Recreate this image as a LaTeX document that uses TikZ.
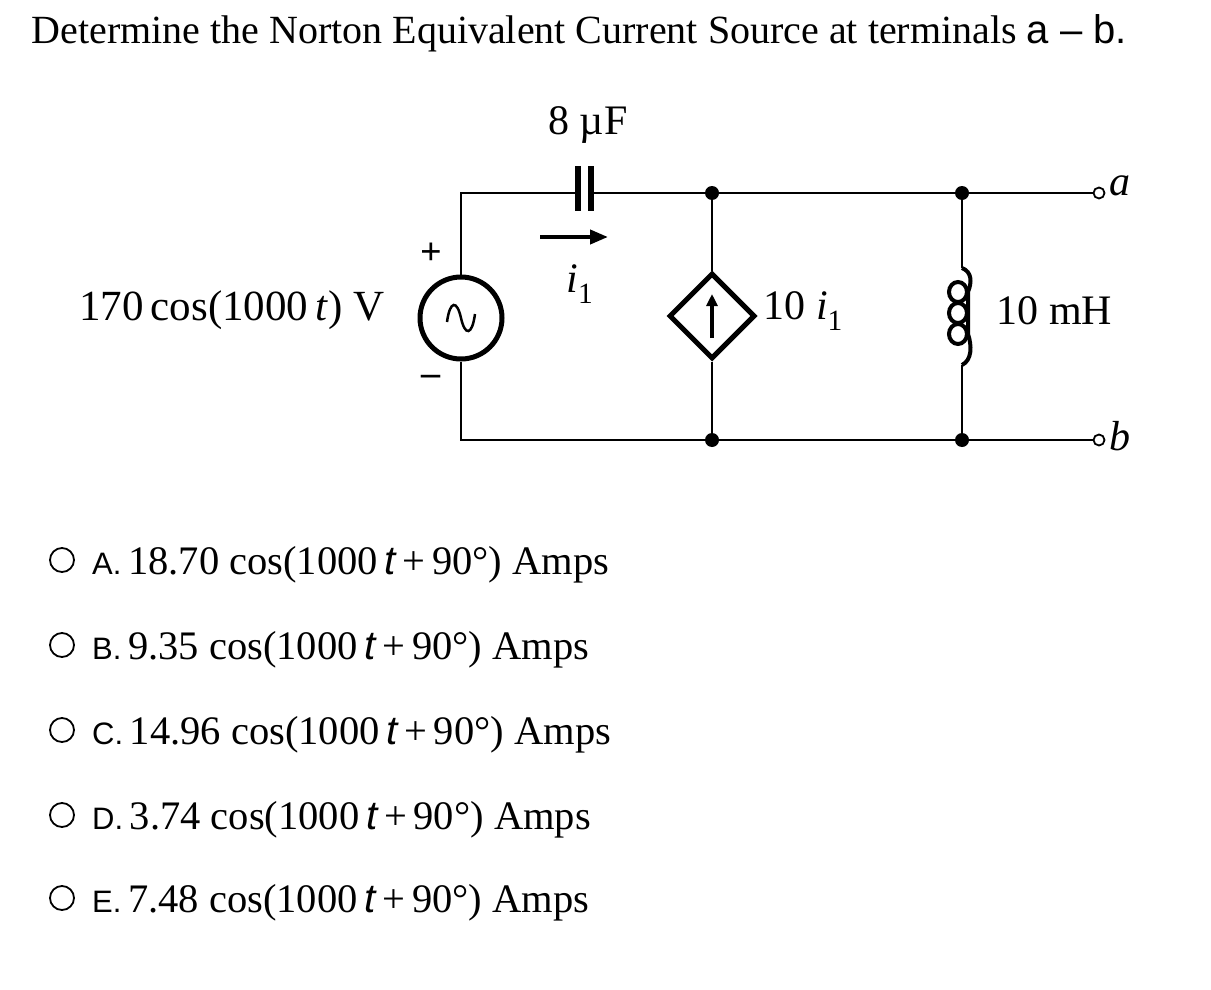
\documentclass[tikz,border=0pt]{standalone}
\usepackage{fontspec}
\setmainfont{Liberation Serif}
\newfontfamily\arialf{Liberation Sans}
\usetikzlibrary{shapes.geometric,arrows.meta}
\tikzset{wire/.style={line width=2.5pt},dot/.style={circle,fill,inner sep=0pt,minimum size=14pt},
term/.style={circle,draw,line width=1.8pt,fill=white,inner sep=0pt,minimum size=11pt},
radio/.style={circle,draw,line width=1.8pt,inner sep=0pt,minimum size=24pt},
lab/.style={font=\fontsize{42}{46}\selectfont}}
\begin{document}
\begin{tikzpicture}[x=1pt,y=-1pt]
\useasboundingbox (0,0) rectangle (1211,990);
\node[anchor=west,font=\fontsize{40}{44}\selectfont] (title) at (28,33) {Determine the Norton Equivalent Current Source at terminals {\arialf a – b.}};
\coordinate (tl) at (461,193); \coordinate (bl) at (461,440);
\node[dot] (n1) at (712,193) {}; \node[dot] (n2) at (712,440) {};
\node[dot] (n3) at (962,193) {}; \node[dot] (n4) at (962,440) {};
\node[term] (ta) at (1099,193) {}; \node[term] (tb) at (1099,440) {};
\coordinate (c1) at (578,193); \coordinate (c2) at (591,193);
% source
\node[circle,draw,line width=5pt,minimum size=82pt,inner sep=0pt] (src) at (461,318) {};
\draw[line width=2.5pt] (447,322) .. controls (450,300) and (457,300) .. (461,318) .. controls (465,336) and (472,336) .. (475,314);
\draw[wire] (src.north) -- (tl) -- (c1);
\draw[wire] (c2) -- (n1) -- (n3) -- (ta);
\draw[wire] (src.south) -- (bl) -- (n2) -- (n4) -- (tb);
\draw[line width=5.5pt] (578,166) -- (578,211) (591,166) -- (591,211);
\draw[line width=4pt,-{Triangle[length=18pt,width=14pt]}] (540,237) -- (608,237);
\node[font=\fontsize{38}{40}\selectfont] (plus) at (431,254) {\textbf{+}};
\node[font=\fontsize{38}{40}\selectfont] (minus) at (431,380) {\textbf{–}};
\node[anchor=east,lab,font=\fontsize{43}{46}\selectfont] (vl) at (388,310) {170\,cos(1000\,\textit{t}) V};
\node[lab] (cl) at (588,125) {8 µF};
\node[lab] (il) at (580,284) {\textit{i}\textsubscript{1}};
% dependent source
\node[diamond,draw,line width=5pt,minimum size=86pt,inner sep=0pt,fill=white] (dep) at (712,316) {};
\draw[wire] (n1) -- (dep.north); \draw[wire] (dep.south) -- (n2);
\draw[line width=3.5pt,-{Triangle[length=12pt,width=11pt]}] (712,338) -- (712,294);
\node[anchor=west,lab] (dl) at (760,311) {10 \textit{i}\textsubscript{1}};
% inductor
\draw[wire] (n3) -- (962,268);
\draw[wire] (962,365) -- (n4);
\draw[line width=4pt] (962,268) .. controls (972,272) and (972,282) .. (968,292) -- (968,334) .. controls (972,346) and (972,360) .. (962,365);
\foreach \yy in {292,313,334} \draw[line width=4pt] (958,\yy) ellipse (9 and 10);
\node[anchor=west,lab] (ll) at (993,311) {10 mH};
\node[anchor=west,font=\fontsize{42}{46}\selectfont\itshape] (la) at (1106,186) {a};
\node[anchor=west,font=\fontsize{42}{46}\selectfont\itshape] (lb) at (1106,436) {b};
% options
\foreach \y/\l/\v in {565/A/18.70,650/B/9.35,735/C/14.96,820/D/3.74,903/E/7.48}{
 \node[radio] at (62,\y-5) {};
 \node[anchor=west,font=\fontsize{40.5}{44}\selectfont,inner sep=0pt] at (92,\y) {{\arialf\fontsize{31}{32}\selectfont\l.}\,\v\ cos(1000\,{\arialf\itshape t}\,+\,90°) Amps};
}
\end{tikzpicture}
\end{document}
